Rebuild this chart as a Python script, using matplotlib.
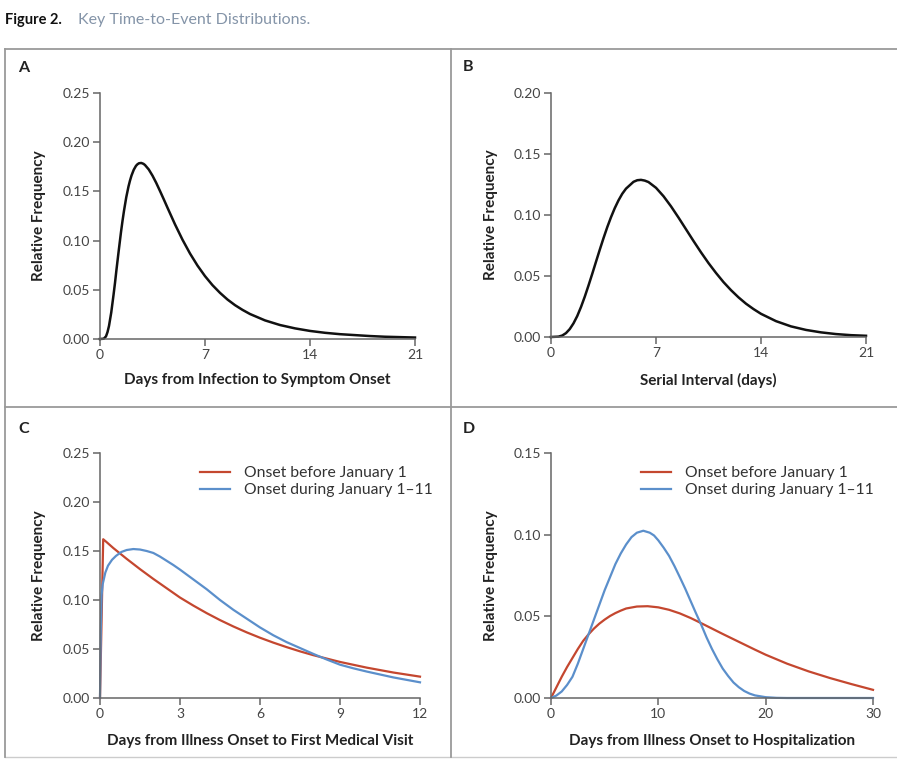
import matplotlib
matplotlib.use("Agg")
import matplotlib.pyplot as plt
from matplotlib.lines import Line2D
from matplotlib.ticker import FormatStrFormatter

plt.rcParams['font.family'] = ['Lato', 'DejaVu Sans']

# Panel A: incubation period (days from infection to symptom onset)
a_days = [0, 0.25, 0.4, 0.5, 0.6, 0.75, 0.9, 1, 1.1, 1.25, 1.4, 1.5, 1.6, 1.75, 1.9, 2,
          2.1, 2.25, 2.4, 2.5, 2.6, 2.75, 2.9, 3, 3.25, 3.5, 3.75, 4, 4.25, 4.5, 5, 5.5,
          6, 6.5, 7, 7.5, 8, 8.5, 9, 9.5, 10, 11, 12, 13, 14, 15, 16, 18, 19, 20, 21]
a_freq = [0, 0.0003, 0.0027, 0.007, 0.0133, 0.027, 0.0446, 0.057, 0.0707, 0.090, 0.1087,
          0.120, 0.1303, 0.144, 0.155, 0.161, 0.1661, 0.172, 0.176, 0.1776, 0.1786, 0.1789,
          0.178, 0.1768, 0.1723, 0.166, 0.1586, 0.1504, 0.142, 0.1334, 0.1165, 0.1009,
          0.0869, 0.0746, 0.0639, 0.0547, 0.0469, 0.0401, 0.0344, 0.0296, 0.0254, 0.0189,
          0.0142, 0.0108, 0.0082, 0.0063, 0.0049, 0.003, 0.0023, 0.0019, 0.0015]

# Panel B: serial interval
b_days = [0, 0.5, 0.75, 1, 1.25, 1.5, 1.75, 2, 2.25, 2.5, 2.75, 3, 3.25, 3.5, 3.75, 4,
          4.25, 4.5, 4.75, 5, 5.5, 5.75, 6, 6.25, 6.5, 7, 7.5, 8, 8.5, 9, 9.5, 10, 10.5,
          11, 11.5, 12, 12.5, 13, 13.5, 14, 15, 16, 17, 18, 19, 20, 21]
b_freq = [0, 0.0003, 0.0012, 0.0032, 0.0065, 0.0112, 0.0172, 0.0246, 0.033, 0.0422,
          0.0518, 0.0617, 0.0715, 0.081, 0.090, 0.0982, 0.1056, 0.112, 0.1174, 0.1216,
          0.1272, 0.1285, 0.1288, 0.1282, 0.127, 0.1223, 0.1154, 0.1071, 0.0979, 0.0883,
          0.0787, 0.0694, 0.0606, 0.0525, 0.045, 0.0384, 0.0325, 0.0273, 0.0229, 0.019,
          0.013, 0.0087, 0.0058, 0.0038, 0.0024, 0.0015, 0.001]

# Panel C: onset to first medical visit
c_red_days = [0, 0.12, 0.25, 0.5, 0.75, 1, 1.5, 2, 2.5, 3, 3.5, 4, 4.5, 5, 5.5, 6, 6.5,
              7, 7.5, 8, 9, 10, 11, 12]
c_red_freq = [0, 0.162, 0.159, 0.153, 0.1475, 0.142, 0.1315, 0.1215, 0.112, 0.1025,
              0.0943, 0.0866, 0.0795, 0.073, 0.067, 0.0615, 0.0565, 0.0519, 0.0476,
              0.0437, 0.0368, 0.031, 0.026, 0.0218]
c_blue_days = [0, 0.03, 0.06, 0.1, 0.2, 0.3, 0.45, 0.6, 0.8, 1.0, 1.25, 1.5, 1.75, 2,
               2.25, 2.5, 2.75, 3, 3.25, 3.5, 3.75, 4, 4.25, 4.5, 4.75, 5, 5.25, 5.5,
               5.75, 6, 6.5, 7, 7.5, 8, 8.5, 9, 9.5, 10, 11, 12]
c_blue_freq = [0, 0.07, 0.105, 0.116, 0.128, 0.135, 0.141, 0.145, 0.149, 0.151, 0.152,
               0.1515, 0.150, 0.148, 0.1443, 0.140, 0.1357, 0.131, 0.126, 0.121, 0.116,
               0.111, 0.1055, 0.100, 0.095, 0.090, 0.0855, 0.081, 0.0765, 0.072, 0.064,
               0.057, 0.051, 0.045, 0.0393, 0.034, 0.0303, 0.027, 0.021, 0.016]

# Panel D: onset to hospitalization
d_red_days = [0, 0.5, 1, 1.5, 2, 2.5, 3, 3.5, 4, 4.5, 5, 5.5, 6, 6.5, 7, 8, 9, 10, 11,
              12, 13, 14, 15, 16, 17, 18, 19, 20, 22, 24, 26, 28, 30]
d_red_freq = [0, 0.0065, 0.013, 0.019, 0.0245, 0.030, 0.035, 0.039, 0.0425, 0.0455,
              0.048, 0.0502, 0.052, 0.0535, 0.0548, 0.056, 0.0562, 0.0555, 0.054, 0.0518,
              0.049, 0.0458, 0.0425, 0.0392, 0.036, 0.0328, 0.0296, 0.0265, 0.021,
              0.0163, 0.0122, 0.0085, 0.005]
d_blue_days = [0, 0.5, 1, 1.5, 2, 2.5, 3, 3.5, 4, 4.5, 5, 5.5, 6, 6.5, 7, 7.5, 8, 8.6,
               9.2, 9.6, 10, 10.5, 11, 11.5, 12, 12.5, 13, 13.5, 14, 14.5, 15, 15.5, 16,
               16.5, 17, 17.5, 18, 18.5, 19, 20, 21, 22, 30]
d_blue_freq = [0, 0.0015, 0.004, 0.008, 0.013, 0.021, 0.030, 0.039, 0.048, 0.057, 0.066,
               0.074, 0.082, 0.0885, 0.094, 0.0985, 0.1012, 0.1024, 0.1012, 0.0995, 0.0965,
               0.092, 0.087, 0.0808, 0.074, 0.067, 0.0595, 0.052, 0.0448, 0.037, 0.030,
               0.0237, 0.018, 0.0135, 0.0095, 0.0066, 0.0043, 0.0027, 0.0016, 0.0005,
               0.0001, 0, 0]

legend_labels = ['Onset before January 1', 'Onset during January 1\u201311']

RED = '#c4472f'
BLUE = '#5b8fcb'
W, H = 897, 761

fig = plt.figure(figsize=(W / 100, H / 100), dpi=100)


def px_axes(left, right, bottom, top):
    return fig.add_axes([left / W, 1 - bottom / H, (right - left) / W, (bottom - top) / H])


def style(ax, xmax, xticks, ymax, yticks, xlabel, ylab_x, xlab_y):
    ax.set_xlim(0, xmax)
    ax.set_ylim(0, ymax)
    ax.patch.set_alpha(0)
    for s in ['top', 'right']:
        ax.spines[s].set_visible(False)
    for s in ['left', 'bottom']:
        ax.spines[s].set_color('#666666')
        ax.spines[s].set_linewidth(1.1)
    ax.set_xticks(xticks)
    ax.set_yticks(yticks)
    ax.yaxis.set_major_formatter(FormatStrFormatter('%.2f'))
    ax.tick_params(direction='out', length=5, width=1.1, color='#666666',
                   labelsize=10, labelcolor='#444444', pad=2)
    ax.set_xlabel(xlabel, fontsize=11, fontweight='bold', color='#222222')
    ax.set_ylabel('Relative Frequency', fontsize=11, fontweight='bold', color='#222222')
    ax.xaxis.set_label_coords(0.5, xlab_y)
    ax.yaxis.set_label_coords(ylab_x, 0.5)


# A
ax_a = px_axes(100, 415, 339, 93)
ax_a.plot(a_days, a_freq, color='#111111', lw=1.8, clip_on=False)
style(ax_a, 21, [0, 7, 14, 21], 0.25, [0, 0.05, 0.10, 0.15, 0.20, 0.25],
      'Days from Infection to Symptom Onset', -0.172, -0.14)

# B
ax_b = px_axes(551, 866, 337, 93)
ax_b.plot(b_days, b_freq, color='#111111', lw=1.8, clip_on=False)
style(ax_b, 21, [0, 7, 14, 21], 0.20, [0, 0.05, 0.10, 0.15, 0.20],
      'Serial Interval (days)', -0.168, -0.149)

# C
ax_c = px_axes(100, 420, 698, 453)
ax_c.plot(c_red_days, c_red_freq, color=RED, lw=1.6, clip_on=False, label=legend_labels[0])
ax_c.plot(c_blue_days, c_blue_freq, color=BLUE, lw=1.6, clip_on=False, label=legend_labels[1])
style(ax_c, 12, [0, 3, 6, 9, 12], 0.25, [0, 0.05, 0.10, 0.15, 0.20, 0.25],
      'Days from Illness Onset to First Medical Visit', -0.17, -0.147)

# D
ax_d = px_axes(551, 873, 698, 453)
ax_d.plot(d_red_days, d_red_freq, color=RED, lw=1.6, clip_on=False, label=legend_labels[0])
ax_d.plot(d_blue_days, d_blue_freq, color=BLUE, lw=1.6, clip_on=False, label=legend_labels[1])
style(ax_d, 30, [0, 10, 20, 30], 0.15, [0, 0.05, 0.10, 0.15],
      'Days from Illness Onset to Hospitalization', -0.165, -0.147)

for ax, lx in [(ax_c, 200), (ax_d, 641)]:
    ax.legend(loc='upper left', bbox_to_anchor=(lx / W, 1 - 466 / H),
              bbox_transform=fig.transFigure, frameon=False, fontsize=11.3,
              handlelength=1.9, handletextpad=0.93, labelspacing=0.22,
              borderpad=0, borderaxespad=0, labelcolor='#333333')

# panel frames
frame = dict(color='#9a9a9a', lw=1.3)
fig.add_artist(Line2D([5 / W, 1], [1 - 49 / H] * 2, **frame))
fig.add_artist(Line2D([5 / W, 1], [1 - 407 / H] * 2, **frame))
fig.add_artist(Line2D([5 / W, 1], [1 - 757 / H] * 2, color='#cccccc', lw=1.0))
fig.add_artist(Line2D([5 / W] * 2, [1 - 49 / H, 1 - 757 / H], **frame))
fig.add_artist(Line2D([451 / W] * 2, [1 - 49 / H, 1 - 757 / H], **frame))

# panel letters
for letter, x, y in [('A', 18, 68), ('B', 463, 67), ('C', 18, 429), ('D', 463, 429)]:
    fig.text(x / W, 1 - y / H, letter, fontsize=11.5, fontweight='bold',
             color='#222222', va='center', ha='left')

# title
fig.text(5 / W, 1 - 20 / H, 'Figure 2.', fontsize=10.5, fontweight='bold',
         color='#111111', va='center')
fig.text(78 / W, 1 - 20 / H, 'Key Time-to-Event Distributions.', fontsize=11.5,
         color='#8494a8', va='center')

fig.savefig('out.png', dpi=100)
